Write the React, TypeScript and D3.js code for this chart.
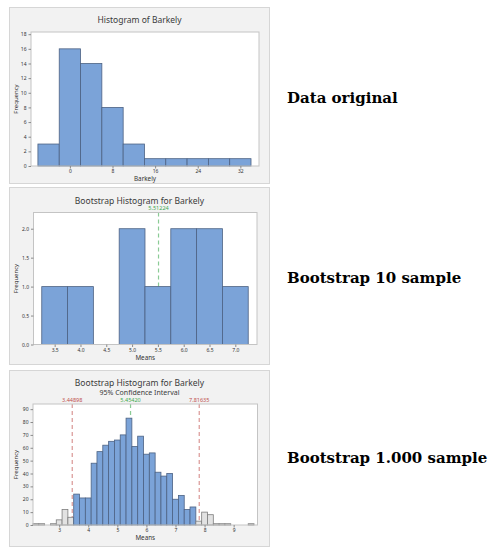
import { useEffect, useRef } from 'react';
import * as d3 from 'd3';

// Original data (bin midpoints, width 4)
const BARKELY_MIDS = [-4, 0, 4, 8, 12, 16, 20, 24, 28, 32];
const BARKELY_FREQ = [3, 16, 14, 8, 3, 1, 1, 1, 1, 1];
const BARKELY_XTICKS = [0, 8, 16, 24, 32];
const BARKELY_YTICKS = [0, 2, 4, 6, 8, 10, 12, 14, 16, 18];

// Bootstrap, 10 samples (bin width 0.5)
const BOOT10_MIDS = [3.5, 4.0, 4.5, 5.0, 5.5, 6.0, 6.5, 7.0];
const BOOT10_FREQ = [1, 1, 0, 2, 1, 2, 2, 1];
const BOOT10_MEAN = 5.51224;
const BOOT10_XTICKS = [3.5, 4.0, 4.5, 5.0, 5.5, 6.0, 6.5, 7.0];
const BOOT10_YTICKS = [0, 0.5, 1.0, 1.5, 2.0];

// Bootstrap, 1000 samples (bin width 0.2)
const BOOT1000_MIDS = [
  2.2, 2.4, 2.6, 2.8, 3.0, 3.2, 3.4, 3.6, 3.8, 4.0, 4.2, 4.4, 4.6, 4.8, 5.0, 5.2, 5.4, 5.6, 5.8,
  6.0, 6.2, 6.4, 6.6, 6.8, 7.0, 7.2, 7.4, 7.6, 7.8, 8.0, 8.2, 8.4, 8.6, 8.8, 9.0, 9.2, 9.4, 9.6,
];
const BOOT1000_FREQ = [
  1, 1, 0, 1, 4, 12, 6, 24, 21, 21, 48, 57, 62, 65, 66, 70, 83, 61, 69,
  55, 56, 41, 38, 40, 20, 23, 12, 14, 3, 10, 8, 1, 1, 1, 0, 0, 0, 1,
];
const BOOT1000_MEAN = 5.4542;
const BOOT1000_CI = [3.44898, 7.81635];
const BOOT1000_XTICKS = [3, 4, 5, 6, 7, 8, 9];
const BOOT1000_YTICKS = [0, 10, 20, 30, 40, 50, 60, 70, 80, 90];

const SIDE_LABELS = ['Data original', 'Bootstrap 10 sample', 'Bootstrap 1.000 sample'];

const FONT = "'Segoe UI', 'Noto Sans', sans-serif";
const BAR_FILL = '#7ba3d8';
const BAR_STROKE = '#4d6283';
const GRAY_FILL = '#e2e2e2';
const GRAY_STROKE = '#7d7d7d';
const RED = '#c0504d';
const GREEN = '#3ea94f';

type Box = { x: number; y: number; w: number; h: number };
type RefLine = { value: number; color: string; label: string };

interface HistOpts {
  panel: Box;
  frame: Box;
  titles: { text: string; y: number; size: number }[];
  xDomain: [number, number];
  yDomain: [number, number];
  xTicks: number[];
  yTicks: number[];
  xFmt: (v: number) => string;
  yFmt: (v: number) => string;
  mids: number[];
  freqs: number[];
  binWidth: number;
  xLabel: string;
  refLines: RefLine[];
  refLabelY: number;
  inside?: (lo: number, hi: number) => boolean;
}

function drawHistogram(svg: d3.Selection<SVGSVGElement, unknown, null, undefined>, o: HistOpts) {
  const g = svg.append('g');

  g.append('rect')
    .attr('x', o.panel.x).attr('y', o.panel.y)
    .attr('width', o.panel.w).attr('height', o.panel.h)
    .attr('fill', '#f2f2f2')
    .attr('stroke', '#d6d6d6');

  const x = d3.scaleLinear().domain(o.xDomain).range([o.frame.x, o.frame.x + o.frame.w]);
  const y = d3.scaleLinear().domain(o.yDomain).range([o.frame.y + o.frame.h, o.frame.y]);

  // plot area
  g.append('rect')
    .attr('x', o.frame.x).attr('y', o.frame.y)
    .attr('width', o.frame.w).attr('height', o.frame.h)
    .attr('fill', '#ffffff');

  o.titles.forEach((t) => {
    g.append('text')
      .attr('x', o.panel.x + o.panel.w / 2)
      .attr('y', t.y)
      .attr('text-anchor', 'middle')
      .attr('font-family', FONT)
      .attr('font-size', t.size)
      .attr('fill', '#3a3a3a')
      .text(t.text);
  });

  // reference lines (behind the bars)
  o.refLines.forEach((r) => {
    g.append('line')
      .attr('x1', x(r.value)).attr('x2', x(r.value))
      .attr('y1', o.frame.y).attr('y2', o.frame.y + o.frame.h)
      .attr('stroke', r.color)
      .attr('stroke-opacity', 0.6)
      .attr('stroke-width', 1.2)
      .attr('stroke-dasharray', '4,3');
    g.append('text')
      .attr('x', x(r.value))
      .attr('y', o.refLabelY)
      .attr('text-anchor', 'middle')
      .attr('font-family', FONT)
      .attr('font-size', 5.5)
      .attr('fill', r.color)
      .text(r.label);
  });

  // bars
  o.mids.forEach((m, i) => {
    const f = o.freqs[i];
    if (!f) return;
    const lo = m - o.binWidth / 2;
    const hi = m + o.binWidth / 2;
    const blue = o.inside ? o.inside(lo, hi) : true;
    g.append('rect')
      .attr('x', x(lo))
      .attr('y', y(f))
      .attr('width', x(hi) - x(lo))
      .attr('height', y(0) - y(f))
      .attr('fill', blue ? BAR_FILL : GRAY_FILL)
      .attr('stroke', blue ? BAR_STROKE : GRAY_STROKE)
      .attr('stroke-width', 0.8);
  });

  g.append('rect')
    .attr('x', o.frame.x).attr('y', o.frame.y)
    .attr('width', o.frame.w).attr('height', o.frame.h)
    .attr('fill', 'none')
    .attr('stroke', '#c4c4c4');

  const yAxis = g.append('g')
    .attr('transform', `translate(${o.frame.x},0)`)
    .call(d3.axisLeft(y).tickValues(o.yTicks).tickSize(2.5).tickPadding(2).tickFormat((d) => o.yFmt(+d)));
  const xAxis = g.append('g')
    .attr('transform', `translate(0,${o.frame.y + o.frame.h})`)
    .call(d3.axisBottom(x).tickValues(o.xTicks).tickSize(2.5).tickPadding(1).tickFormat((d) => o.xFmt(+d)));

  [yAxis, xAxis].forEach((a) => {
    a.select('.domain').remove();
    a.selectAll('line').attr('stroke', '#8a8a8a');
    a.selectAll('text')
      .attr('font-family', FONT)
      .attr('font-size', 5)
      .attr('fill', '#333');
  });

  g.append('text')
    .attr('x', o.frame.x + o.frame.w / 2)
    .attr('y', o.frame.y + o.frame.h + 15)
    .attr('text-anchor', 'middle')
    .attr('font-family', FONT)
    .attr('font-size', 6.3)
    .attr('fill', '#333')
    .text(o.xLabel);

  g.append('text')
    .attr('transform', `translate(${o.panel.x + 8.5},${o.frame.y + o.frame.h / 2}) rotate(-90)`)
    .attr('text-anchor', 'middle')
    .attr('font-family', FONT)
    .attr('font-size', 6)
    .attr('fill', '#333')
    .text('Frequency');
}

export default function App() {
  const svgRef = useRef<SVGSVGElement>(null);

  useEffect(() => {
    if (!svgRef.current) return;
    const svg = d3.select(svgRef.current);
    svg.selectAll('*').remove();

    drawHistogram(svg, {
      panel: { x: 9.5, y: 7.5, w: 260, h: 176 },
      frame: { x: 31, y: 32, w: 228, h: 134 },
      titles: [{ text: 'Histogram of Barkely', y: 22.5, size: 8.5 }],
      xDomain: [-7.3, 35.5],
      yDomain: [0, 18.3],
      xTicks: BARKELY_XTICKS,
      yTicks: BARKELY_YTICKS,
      xFmt: (v) => String(v),
      yFmt: (v) => String(v),
      mids: BARKELY_MIDS,
      freqs: BARKELY_FREQ,
      binWidth: 4,
      xLabel: 'Barkely',
      refLines: [],
      refLabelY: 0,
    });

    drawHistogram(svg, {
      panel: { x: 9.5, y: 187.5, w: 260, h: 177 },
      frame: { x: 33.5, y: 212.5, w: 223.5, h: 132 },
      titles: [{ text: 'Bootstrap Histogram for Barkely', y: 203.5, size: 8.5 }],
      xDomain: [3.09, 7.42],
      yDomain: [0, 2.28],
      xTicks: BOOT10_XTICKS,
      yTicks: BOOT10_YTICKS,
      xFmt: (v) => v.toFixed(1),
      yFmt: (v) => v.toFixed(1),
      mids: BOOT10_MIDS,
      freqs: BOOT10_FREQ,
      binWidth: 0.5,
      xLabel: 'Means',
      refLines: [{ value: BOOT10_MEAN, color: GREEN, label: BOOT10_MEAN.toFixed(5) }],
      refLabelY: 210,
    });

    drawHistogram(svg, {
      panel: { x: 9.5, y: 370.5, w: 260, h: 176 },
      frame: { x: 33, y: 404, w: 224.5, h: 121 },
      titles: [
        { text: 'Bootstrap Histogram for Barkely', y: 385.5, size: 8.5 },
        { text: '95% Confidence Interval', y: 395, size: 7 },
      ],
      xDomain: [2.1, 9.82],
      yDomain: [0, 94],
      xTicks: BOOT1000_XTICKS,
      yTicks: BOOT1000_YTICKS,
      xFmt: (v) => String(v),
      yFmt: (v) => String(v),
      mids: BOOT1000_MIDS,
      freqs: BOOT1000_FREQ,
      binWidth: 0.2,
      xLabel: 'Means',
      refLines: [
        { value: BOOT1000_CI[0], color: RED, label: BOOT1000_CI[0].toFixed(5) },
        { value: BOOT1000_MEAN, color: GREEN, label: BOOT1000_MEAN.toFixed(5) },
        { value: BOOT1000_CI[1], color: RED, label: BOOT1000_CI[1].toFixed(5) },
      ],
      refLabelY: 401.5,
      inside: (lo, hi) => lo >= BOOT1000_CI[0] - 1e-9 && hi <= BOOT1000_CI[1] + 1e-9,
    });

    // captions on the right
    SIDE_LABELS.forEach((label, i) => {
      svg.append('text')
        .attr('x', 287)
        .attr('y', 103 + i * 180)
        .attr('font-family', "'DejaVu Serif', serif")
        .attr('font-weight', 'bold')
        .attr('font-size', 15)
        .attr('fill', '#000')
        .text(label);
    });
  }, []);

  return (
    <div style={{ position: 'absolute', left: 0, top: 0 }}>
      <svg ref={svgRef} width={499} height={560} style={{ display: 'block', background: '#fff' }} />
    </div>
  );
}
